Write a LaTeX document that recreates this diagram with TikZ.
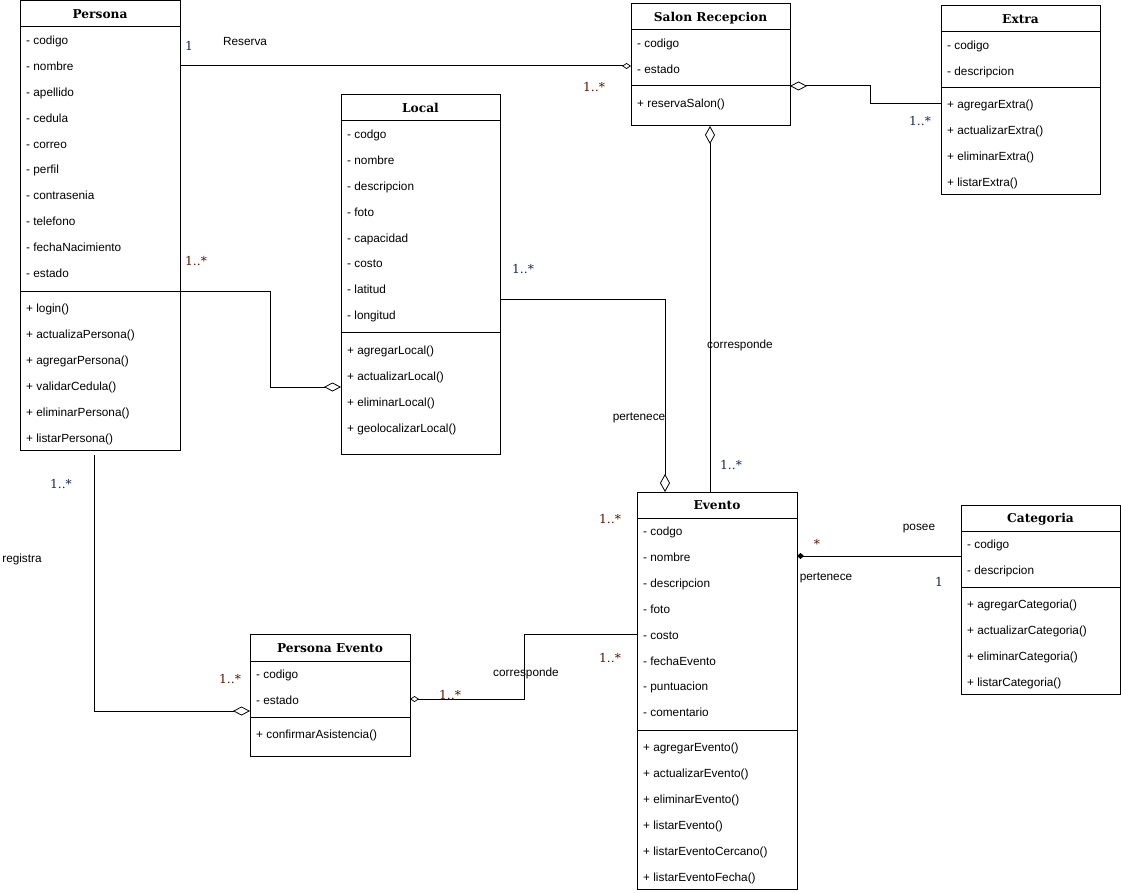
\documentclass[tikz,border=0pt]{standalone}
\usepackage{fontspec}
\setmainfont{Liberation Sans}
\newfontfamily\titlefont{DejaVu Serif}
\newfontfamily\multfont{DejaVu Serif}
\usetikzlibrary{arrows.meta}
\definecolor{multR}{RGB}{90,20,0}
\definecolor{multB}{RGB}{20,40,90}
\tikzset{
  x=1pt, y=-1pt,
  classbox/.style={draw, line width=1pt, anchor=north west, inner sep=0pt, outer sep=0pt, fill=white},
  ctitle/.style={font=\titlefont\bfseries\fontsize{12.2}{14}\selectfont, inner sep=0pt, text height=8.8pt, text depth=0pt},
  attr/.style={anchor=west, inner sep=0pt, text height=8.6pt, text depth=0pt, font=\fontsize{11.8}{13}\selectfont, yshift=-0.2pt},
  lbl/.style={inner sep=0pt, text height=8.6pt, text depth=0pt, font=\fontsize{11.8}{13}\selectfont},
  mult/.style={inner sep=0pt, text height=8.8pt, text depth=0pt, font=\multfont\fontsize{12.3}{14}\selectfont},
  conn/.style={line width=1pt},
  aggS/.style={conn, -{Diamond[open, length=9pt, width=6pt, line width=0.7pt]}},
  aggM/.style={conn, -{Diamond[open, length=17pt, width=9pt, line width=0.8pt]}},
  aggV/.style={conn, -{Diamond[open, length=18pt, width=10pt, line width=0.8pt]}},
  comp/.style={conn, -{Diamond[length=7pt, width=6pt]}},
}
\newcommand\umlattrs[4]{% prefix, x, ystart, list
  \foreach \t [count=\i from 0] in {#4} {
    \node[attr] (#1\i) at (#2, {#3+25.9*\i}) {\t};
  }
}
\begin{document}
\begin{tikzpicture}
\fill[white] (0,0) rectangle (1121,893);
\useasboundingbox (0,0) rectangle (1121,893);

% ---- Persona ----
\node[classbox, minimum width=160pt, minimum height=449pt] (persona) at (20,1) {};
\node[ctitle] (personaT) at (100,14) {Persona};
\draw[line width=1pt] (persona.west |- 0,27) -- (persona.east |- 0,27);
\draw[line width=1pt] (persona.west |- 0,291) -- (persona.east |- 0,291);
\umlattrs{pa}{26}{40}{- codigo,- nombre,- apellido,- cedula,- correo,- perfil,- contrasenia,- telefono,- fechaNacimiento,- estado}
\umlattrs{pm}{26}{308}{+ login(),+ actualizaPersona(),+ agregarPersona(),+ validarCedula(),+ eliminarPersona(),+ listarPersona()}

% ---- Salon Recepcion ----
\node[classbox, minimum width=159pt, minimum height=122pt] (salon) at (631,4) {};
\node[ctitle] (salonT) at (710.5,17) {Salon Recepcion};
\draw[line width=1pt] (salon.west |- 0,30) -- (salon.east |- 0,30);
\draw[line width=1pt] (salon.west |- 0,86) -- (salon.east |- 0,86);
\umlattrs{sa}{637}{43}{- codigo,- estado}
\umlattrs{sm}{637}{103}{+ reservaSalon()}

% ---- Extra ----
\node[classbox, minimum width=159pt, minimum height=189pt] (extra) at (941,6) {};
\node[ctitle] (extraT) at (1020.5,19) {Extra};
\draw[line width=1pt] (extra.west |- 0,32) -- (extra.east |- 0,32);
\draw[line width=1pt] (extra.west |- 0,88) -- (extra.east |- 0,88);
\umlattrs{ea}{947}{45}{- codigo,- descripcion}
\umlattrs{em}{947}{104}{+ agregarExtra(),+ actualizarExtra(),+ eliminarExtra(),+ listarExtra()}

% ---- Local ----
\node[classbox, minimum width=159pt, minimum height=359pt] (local) at (341,95) {};
\node[ctitle] (localT) at (420.5,108) {Local};
\draw[line width=1pt] (local.west |- 0,121) -- (local.east |- 0,121);
\draw[line width=1pt] (local.west |- 0,332) -- (local.east |- 0,332);
\umlattrs{la}{347}{134}{- codgo,- nombre,- descripcion,- foto,- capacidad,- costo,- latitud,- longitud}
\umlattrs{lm}{347}{350}{+ agregarLocal(),+ actualizarLocal(),+ eliminarLocal(),+ geolocalizarLocal()}

% ---- Evento ----
\node[classbox, minimum width=160pt, minimum height=397pt] (evento) at (637,492) {};
\node[ctitle] (eventoT) at (717,505) {Evento};
\draw[line width=1pt] (evento.west |- 0,518) -- (evento.east |- 0,518);
\draw[line width=1pt] (evento.west |- 0,730) -- (evento.east |- 0,730);
\umlattrs{va}{643}{531}{- codgo,- nombre,- descripcion,- foto,- costo,- fechaEvento,- puntuacion,- comentario}
\umlattrs{vm}{643}{747}{+ agregarEvento(),+ actualizarEvento(),+ eliminarEvento(),+ listarEvento(),+ listarEventoCercano(),+ listarEventoFecha()}

% ---- Categoria ----
\node[classbox, minimum width=159pt, minimum height=189pt] (categoria) at (961,505) {};
\node[ctitle] (categoriaT) at (1040.5,518) {Categoria};
\draw[line width=1pt] (categoria.west |- 0,531) -- (categoria.east |- 0,531);
\draw[line width=1pt] (categoria.west |- 0,587) -- (categoria.east |- 0,587);
\umlattrs{ca}{967}{544}{- codigo,- descripcion}
\umlattrs{cm}{967}{604}{+ agregarCategoria(),+ actualizarCategoria(),+ eliminarCategoria(),+ listarCategoria()}

% ---- Persona Evento ----
\node[classbox, minimum width=160pt, minimum height=122pt] (pev) at (250,634) {};
\node[ctitle] (pevT) at (330,648) {Persona Evento};
\draw[line width=1pt] (pev.west |- 0,661) -- (pev.east |- 0,661);
\draw[line width=1pt] (pev.west |- 0,717) -- (pev.east |- 0,717);
\umlattrs{pva}{256}{674}{- codigo,- estado}
\umlattrs{pvm}{256}{734}{+ confirmarAsistencia()}

% ---- Connectors ----
\draw[aggS] (persona.east |- 0,66) -- (salon.west |- 0,66);
\draw[aggM] (extra.west |- 0,104) -- (870,104) -- (870,86) -- (salon.east |- 0,86);
\draw[aggV] (evento.north -| 710,0) -- (salon.south -| 710,0);
\draw[aggM] (persona.east |- 0,291) -- (270,291) -- (270,387) -- (local.west |- 0,387);
\draw[aggV] (local.east |- 0,299) -- (665,299) -- (evento.north -| 665,0);
\draw[aggM] ([yshift=-5pt]persona.south -| 94,0) -- (94,711) -- (pev.west |- 0,711);
\draw[aggS] (evento.west |- 0,634) -- (524,634) -- (524,699) -- (pev.east |- 0,699);
\draw[comp] (categoria.west |- 0,556) -- (evento.east |- 0,556);

% ---- Labels ----
\node[lbl] (l1) at (245,41) {Reserva};
\node[mult, text=multB] (m1) at (189,46) {1};
\node[mult, text=multR] (m2) at (594,87) {1..*};
\node[mult, text=multB] (m3) at (920,121) {1..*};
\node[mult, text=multR] (m4) at (196,261) {1..*};
\node[mult, text=multB] (m5) at (523,269) {1..*};
\node[lbl] (l2) at (740,344) {corresponde};
\node[lbl] (l3) at (639,416) {pertenece};
\node[mult, text=multB] (m6) at (731,465) {1..*};
\node[mult, text=multB] (m7) at (61,484) {1..*};
\node[lbl] (l4) at (22,558) {registra};
\node[mult, text=multR] (m8) at (610,519) {1..*};
\node[lbl] (l5) at (919,526) {posee};
\node[mult, text=multR] (m9) at (817,544) {*};
\node[lbl] (l6) at (826,576) {pertenece};
\node[mult, text=multB] (m10) at (939,582) {1};
\node[mult, text=multR] (m11) at (610,658) {1..*};
\node[lbl] (l7) at (526,672) {corresponde};
\node[mult, text=multR] (m12) at (230,679) {1..*};
\node[mult, text=multR, fill=white, inner xsep=1pt] (m13) at (450,695) {1..*};
\end{tikzpicture}
\end{document}
